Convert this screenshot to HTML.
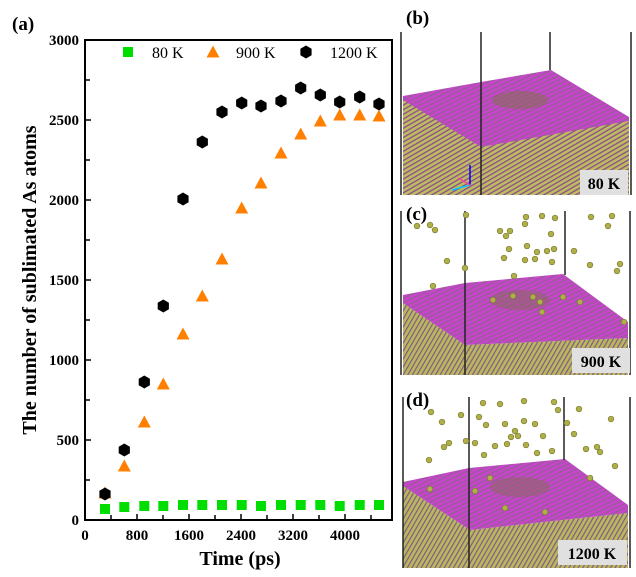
<!DOCTYPE html>
<html><head><meta charset="utf-8"><style>
body{margin:0;background:#fff}
svg{display:block;font-family:"Liberation Serif",serif}
</style></head><body>
<svg width="636" height="577" viewBox="0 0 636 577" xmlns="http://www.w3.org/2000/svg">
<defs>
<pattern id="mag" width="4" height="4" patternUnits="userSpaceOnUse" patternTransform="rotate(-25)">
<rect width="4" height="4" fill="#c844cc"/><rect width="4" height="1.3" fill="#945e94"/></pattern>
<pattern id="oli" width="4" height="4" patternUnits="userSpaceOnUse" patternTransform="rotate(60)">
<rect width="4" height="4" fill="#bcbc60"/><rect width="1.3" height="4" fill="#8e4a8e"/></pattern>
<pattern id="oli2" width="4" height="4" patternUnits="userSpaceOnUse" patternTransform="rotate(30)">
<rect width="4" height="4" fill="#b8b85c"/><rect width="1.2" height="4" fill="#86588a"/></pattern>
<g id="hx"><polygon points="0,-6.5 5.6,-3.2 5.6,3.2 0,6.5 -5.6,3.2 -5.6,-3.2" fill="#000"/></g>
<g id="tr"><polygon points="0,-6.5 6.5,5.5 -6.5,5.5" fill="#ff8000"/></g>
<g id="sq"><rect x="-5" y="-5" width="10" height="10" fill="#00dd00"/></g>
<g id="cl"><circle r="2.8" fill="#b0b048" stroke="#7a7a34" stroke-width="0.7"/></g>
</defs>

<rect x="85" y="40" width="307" height="480" fill="none" stroke="#000" stroke-width="2"/>
<g stroke="#000" stroke-width="1.5">
<line x1="85" y1="80" x2="90" y2="80"/><line x1="85" y1="120" x2="91" y2="120"/>
<line x1="85" y1="160" x2="90" y2="160"/><line x1="85" y1="200" x2="91" y2="200"/>
<line x1="85" y1="240" x2="90" y2="240"/><line x1="85" y1="280" x2="91" y2="280"/>
<line x1="85" y1="320" x2="90" y2="320"/><line x1="85" y1="360" x2="91" y2="360"/>
<line x1="85" y1="400" x2="90" y2="400"/><line x1="85" y1="440" x2="91" y2="440"/>
<line x1="85" y1="480" x2="90" y2="480"/>
<line x1="111" y1="520" x2="111" y2="515"/><line x1="137" y1="520" x2="137" y2="514"/>
<line x1="163" y1="520" x2="163" y2="515"/><line x1="189" y1="520" x2="189" y2="514"/>
<line x1="215" y1="520" x2="215" y2="515"/><line x1="241" y1="520" x2="241" y2="514"/>
<line x1="267" y1="520" x2="267" y2="515"/><line x1="293" y1="520" x2="293" y2="514"/>
<line x1="319" y1="520" x2="319" y2="515"/><line x1="345" y1="520" x2="345" y2="514"/>
<line x1="371" y1="520" x2="371" y2="515"/>
</g>
<g font-weight="bold" font-size="15" text-anchor="end">
<text x="79" y="45">3000</text><text x="79" y="125">2500</text><text x="79" y="205">2000</text>
<text x="79" y="285">1500</text><text x="79" y="365">1000</text><text x="79" y="445">500</text><text x="79" y="525">0</text>
</g>
<g font-weight="bold" font-size="15" text-anchor="middle">
<text x="85" y="540">0</text><text x="137" y="540">800</text><text x="189" y="540">1600</text>
<text x="241" y="540">2400</text><text x="293" y="540">3200</text><text x="345" y="540">4000</text>
</g>
<text x="240" y="565" font-weight="bold" font-size="20" text-anchor="middle">Time (ps)</text>
<text transform="translate(36,280) rotate(-90)" font-weight="bold" font-size="20" text-anchor="middle">The number of sublimated As atoms</text>
<text x="12" y="30" font-weight="bold" font-size="19">(a)</text>

<use href="#sq" x="128" y="52"/><text x="152" y="58" font-size="16">80 K</text>
<use href="#tr" x="213" y="52"/><text x="236" y="58" font-size="16">900 K</text>
<use href="#hx" x="306" y="52"/><text x="330" y="58" font-size="16">1200 K</text>

<g>
<use href="#sq" x="105" y="509"/><use href="#sq" x="124.3" y="507"/><use href="#sq" x="144.3" y="506"/>
<use href="#sq" x="163.3" y="506"/><use href="#sq" x="183" y="505"/><use href="#sq" x="202.3" y="505"/>
<use href="#sq" x="222" y="505"/><use href="#sq" x="241.7" y="505"/><use href="#sq" x="261" y="506"/>
<use href="#sq" x="281" y="505"/><use href="#sq" x="300.7" y="505"/><use href="#sq" x="320.3" y="505"/>
<use href="#sq" x="339.7" y="506"/><use href="#sq" x="359.7" y="505"/><use href="#sq" x="379" y="505"/>
</g>
<g>
<use href="#tr" x="105" y="493"/><use href="#tr" x="124.3" y="466"/><use href="#tr" x="144.3" y="422"/>
<use href="#tr" x="163.3" y="384"/><use href="#tr" x="183" y="334"/><use href="#tr" x="202.3" y="296"/>
<use href="#tr" x="222" y="259"/><use href="#tr" x="241.7" y="208"/><use href="#tr" x="261" y="183"/>
<use href="#tr" x="281" y="153"/><use href="#tr" x="300.7" y="134"/><use href="#tr" x="320.3" y="121"/>
<use href="#tr" x="339.7" y="115"/><use href="#tr" x="359.7" y="115"/><use href="#tr" x="379" y="116"/>
</g>
<g>
<use href="#hx" x="105" y="494"/><use href="#hx" x="124.3" y="450"/><use href="#hx" x="144.3" y="382"/>
<use href="#hx" x="163.3" y="306"/><use href="#hx" x="183" y="199"/><use href="#hx" x="202.3" y="142"/>
<use href="#hx" x="222" y="112"/><use href="#hx" x="241.7" y="103"/><use href="#hx" x="261" y="106"/>
<use href="#hx" x="281" y="101"/><use href="#hx" x="300.7" y="88"/><use href="#hx" x="320.3" y="95"/>
<use href="#hx" x="339.7" y="102"/><use href="#hx" x="359.7" y="97"/><use href="#hx" x="379" y="104"/>
</g>

<polygon points="403,195 403,98 481,147 629,120 629,195" fill="url(#oli)"/>
<polygon points="403,96 481,82 551,70 629,117 629,121 481,147 403,100" fill="url(#mag)"/>
<ellipse cx="520" cy="100" rx="28" ry="9" fill="#8a6a5a" opacity="0.6"/>
<g stroke="#222" stroke-width="1.5"><line x1="401" y1="32" x2="401" y2="195"/><line x1="481" y1="32" x2="481" y2="195"/><line x1="550" y1="32" x2="550" y2="70"/><line x1="631" y1="32" x2="631" y2="195"/></g>
<line x1="470" y1="185" x2="470" y2="165" stroke="#0000ff" stroke-width="1.5"/>
<line x1="470" y1="185" x2="452" y2="190" stroke="#00c8ff" stroke-width="1.5"/>
<line x1="470" y1="185" x2="458" y2="178" stroke="#ff40a0" stroke-width="1.5"/>
<text x="406" y="24" font-weight="bold" font-size="19">(b)</text>
<rect x="580" y="170" width="48" height="25" fill="#e0e0e0"/>
<text x="604" y="189" font-weight="bold" font-size="16" text-anchor="middle">80 K</text>

<polygon points="403,375 403,303 465,345 628,338 628,375" fill="url(#oli2)"/>
<polygon points="403,295 465,283 563,274 628,322 628,338 465,345 403,303" fill="url(#mag)"/>
<ellipse cx="520" cy="300" rx="30" ry="10" fill="#8a6a5a" opacity="0.5"/>
<g stroke="#222" stroke-width="1.5"><line x1="401" y1="211" x2="401" y2="375"/><line x1="465" y1="211" x2="465" y2="375"/><line x1="565" y1="211" x2="565" y2="275"/><line x1="630" y1="211" x2="630" y2="375"/></g>
<g>
<use href="#cl" x="417" y="226"/><use href="#cl" x="430" y="225"/><use href="#cl" x="435" y="230"/><use href="#cl" x="466" y="215"/>
<use href="#cl" x="447" y="261"/><use href="#cl" x="465" y="268"/><use href="#cl" x="500" y="231"/><use href="#cl" x="506" y="236"/>
<use href="#cl" x="510" y="231"/><use href="#cl" x="526" y="217"/><use href="#cl" x="525" y="224"/><use href="#cl" x="542" y="216"/>
<use href="#cl" x="555" y="218"/><use href="#cl" x="551" y="234"/><use href="#cl" x="509" y="249"/><use href="#cl" x="527" y="246"/>
<use href="#cl" x="537" y="252"/><use href="#cl" x="535" y="259"/><use href="#cl" x="547" y="251"/><use href="#cl" x="554" y="249"/>
<use href="#cl" x="525" y="260"/><use href="#cl" x="504" y="258"/><use href="#cl" x="552" y="262"/><use href="#cl" x="591" y="217"/>
<use href="#cl" x="612" y="216"/><use href="#cl" x="608" y="226"/><use href="#cl" x="574" y="251"/><use href="#cl" x="620" y="264"/>
<use href="#cl" x="617" y="271"/><use href="#cl" x="590" y="265"/><use href="#cl" x="514" y="276"/><use href="#cl" x="533" y="297"/>
<use href="#cl" x="513" y="296"/><use href="#cl" x="540" y="302"/><use href="#cl" x="580" y="302"/><use href="#cl" x="542" y="312"/>
<use href="#cl" x="563" y="297"/><use href="#cl" x="433" y="286"/><use href="#cl" x="493" y="300"/><use href="#cl" x="624" y="322"/>
</g>
<text x="406" y="220" font-weight="bold" font-size="19">(c)</text>
<rect x="572" y="348" width="58" height="25" fill="#e0e0e0"/>
<text x="601" y="367" font-weight="bold" font-size="16" text-anchor="middle">900 K</text>

<polygon points="403,568 403,486 470,530 628,513 628,568" fill="url(#oli2)"/>
<polygon points="403,482 469,468 565,459 628,505 628,513 470,530 403,486" fill="url(#mag)"/>
<ellipse cx="520" cy="487" rx="30" ry="10" fill="#8a6a5a" opacity="0.5"/>
<g stroke="#222" stroke-width="1.5"><line x1="403" y1="397" x2="403" y2="568"/><line x1="469" y1="397" x2="469" y2="568"/><line x1="564" y1="397" x2="564" y2="460"/><line x1="630" y1="397" x2="630" y2="568"/></g>
<g>
<use href="#cl" x="431" y="412"/><use href="#cl" x="442" y="422"/><use href="#cl" x="461" y="415"/><use href="#cl" x="444" y="447"/>
<use href="#cl" x="449" y="443"/><use href="#cl" x="429" y="460"/><use href="#cl" x="466" y="441"/><use href="#cl" x="475" y="443"/>
<use href="#cl" x="483" y="403"/><use href="#cl" x="479" y="417"/><use href="#cl" x="486" y="425"/><use href="#cl" x="500" y="404"/>
<use href="#cl" x="505" y="424"/><use href="#cl" x="515" y="431"/><use href="#cl" x="511" y="437"/><use href="#cl" x="518" y="436"/>
<use href="#cl" x="524" y="401"/><use href="#cl" x="524" y="421"/><use href="#cl" x="535" y="424"/><use href="#cl" x="543" y="436"/>
<use href="#cl" x="526" y="445"/><use href="#cl" x="495" y="446"/><use href="#cl" x="507" y="444"/><use href="#cl" x="484" y="455"/>
<use href="#cl" x="537" y="453"/><use href="#cl" x="554" y="402"/><use href="#cl" x="558" y="410"/><use href="#cl" x="579" y="409"/>
<use href="#cl" x="567" y="423"/><use href="#cl" x="574" y="434"/><use href="#cl" x="586" y="449"/><use href="#cl" x="597" y="447"/>
<use href="#cl" x="600" y="452"/><use href="#cl" x="611" y="419"/><use href="#cl" x="615" y="466"/><use href="#cl" x="552" y="451"/>
<use href="#cl" x="490" y="478"/><use href="#cl" x="475" y="491"/><use href="#cl" x="505" y="508"/><use href="#cl" x="545" y="512"/>
<use href="#cl" x="430" y="489"/><use href="#cl" x="590" y="478"/>
</g>
<text x="406" y="406" font-weight="bold" font-size="19">(d)</text>
<rect x="558" y="540" width="69" height="25" fill="#e0e0e0"/>
<text x="592" y="559" font-weight="bold" font-size="16" text-anchor="middle">1200 K</text>
</svg>
</body></html>
